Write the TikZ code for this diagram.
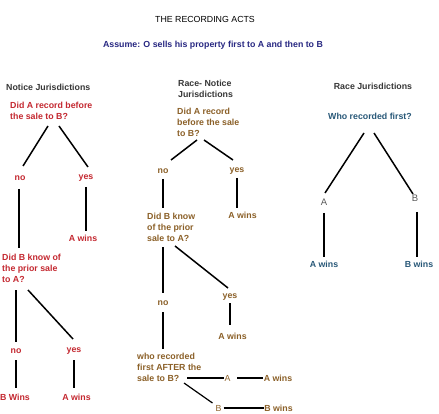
\documentclass[tikz,border=0pt]{standalone}
\usepackage{fontspec}
\setmainfont{Liberation Sans}
\definecolor{nred}{RGB}{196,40,48}
\definecolor{rbrown}{RGB}{139,96,40}
\definecolor{anavy}{RGB}{40,40,130}
\definecolor{rteal}{RGB}{40,88,120}
\definecolor{hgray}{RGB}{55,55,55}
\definecolor{lgray}{RGB}{90,90,90}
\begin{document}
\begin{tikzpicture}[x=1pt,y=-1pt]
\tikzset{
  base/.style={inner sep=0pt, font=\fontsize{8.8}{11}\selectfont\bfseries},
  plain/.style={inner sep=0pt, font=\fontsize{8.8}{11}\selectfont},
  multi/.style={base, align=left, anchor=west},
  red/.style={base, text=nred},
  brown/.style={base, text=rbrown},
  teal/.style={base, text=rteal},
  head/.style={base, text=hgray},
  conn/.style={draw=black, line width=1.5pt},
}
\useasboundingbox (0,0) rectangle (439,414);
\fill[white] (0,0) rectangle (439,414);

% titles
\node[plain, text=black] (title) at (205,19) {THE RECORDING ACTS};
\node[base, text=anavy] (assume) at (213,45) {Assume: O sells his property first to A and then to B};

% ---------- Notice ----------
\node[head, anchor=west] (hN) at (6,87) {Notice Jurisdictions};
\node[multi, text=nred] (qN1) at (10,110.5) {Did A record before\\the sale to B?};
\node[red] (noN1) at (20,178) {no};
\node[red] (yesN1) at (86,178) {yes};
\node[red] (winN1) at (83,238) {A wins};
\node[multi, text=nred] (qN2) at (2,268) {Did B know of\\the prior sale\\to A?};
\node[red] (noN2) at (16,351) {no};
\node[red] (yesN2) at (74,351) {yes};
\node[red] (winN2a) at (15,397) {B Wins};
\node[red] (winN2b) at (76.5,397) {A wins};

\draw[conn] ([shift={(38,15.5)}]qN1.west) -- ([shift={(3,-12)}]noN1.center);
\draw[conn] ([shift={(49,15.5)}]qN1.west) -- ([shift={(2,-11)}]yesN1.center);
\draw[conn] ([shift={(-1,11)}]noN1.center) -- ([shift={(17,-20)}]qN2.west);
\draw[conn] ([shift={(0,9)}]yesN1.center) -- ([shift={(3,-7)}]winN1.center);
\draw[conn] ([shift={(14,22)}]qN2.west) -- ([shift={(0,-9)}]noN2.center);
\draw[conn] ([shift={(26,22)}]qN2.west) -- ([shift={(-1,-12)}]yesN2.center);
\draw[conn] ([shift={(0,9)}]noN2.center) -- ([shift={(1,-9)}]winN2a.center);
\draw[conn] ([shift={(0,9)}]yesN2.center) -- ([shift={(-2.5,-9)}]winN2b.center);

% ---------- Race-Notice ----------
\node[multi, text=hgray] (hR) at (178,89) {Race- Notice\\Jurisdictions};
\node[multi, text=rbrown] (qR1) at (177,122) {Did A record\\before the sale\\to B?};
\node[brown] (noR1) at (163,171) {no};
\node[brown] (yesR1) at (237,171) {yes};
\node[brown] (winR1) at (242.5,215) {A wins};
\node[multi, text=rbrown] (qR2) at (147,227) {Did B know\\of the prior\\sale to A?};
\node[brown] (noR2) at (163,303) {no};
\node[brown] (yesR2) at (230,297) {yes};
\node[brown] (winR2) at (232.5,336) {A wins};
\node[multi, text=rbrown] (qR3) at (137,367) {who recorded\\first AFTER the\\sale to B?};
\node[plain, text=rbrown] (aR) at (227.5,378) {A};
\node[brown] (aWin) at (278,378) {A wins};
\node[plain, text=rbrown] (bR) at (218.5,408) {B};
\node[brown] (bWin) at (278.5,408) {B wins};
\coordinate (q3e) at (187,378);
\coordinate (q3s) at (184,383);

\draw[conn] ([shift={(20,18)}]qR1.west) -- ([shift={(8,-11)}]noR1.center);
\draw[conn] ([shift={(27,18)}]qR1.west) -- ([shift={(-4,-11)}]yesR1.center);
\draw[conn] ([shift={(0,8)}]noR1.center) -- ([shift={(16,-19)}]qR2.west);
\draw[conn] ([shift={(0,7)}]yesR1.center) -- ([shift={(-5.5,-7)}]winR1.center);
\draw[conn] ([shift={(16,20)}]qR2.west) -- ([shift={(0,-10)}]noR2.center);
\draw[conn] ([shift={(28,19)}]qR2.west) -- ([shift={(-2,-9)}]yesR2.center);
\draw[conn] ([shift={(0,9)}]noR2.center) -- ([shift={(26,-18)}]qR3.west);
\draw[conn] ([shift={(0,6)}]yesR2.center) -- ([shift={(-2.5,-11)}]winR2.center);
\draw[conn, line width=1.2pt] (q3e) -- ([shift={(-4,0)}]aR.center);
\draw[conn, line width=1.2pt] ([shift={(9.5,0)}]aR.center) -- ([shift={(-15,0)}]aWin.center);
\draw[conn, line width=1.2pt] (q3s) -- ([shift={(-6,-5)}]bR.center);
\draw[conn, line width=1.2pt] ([shift={(5,0)}]bR.center) -- ([shift={(-15,0)}]bWin.center);

% ---------- Race ----------
\node[head] (hRace) at (373,86) {Race Jurisdictions};
\node[teal] (qRace) at (370,116) {Who recorded first?};
\node[plain, text=lgray, font=\fontsize{9.5}{11}\selectfont] (aRace) at (324,202) {A};
\node[plain, text=lgray, font=\fontsize{9.5}{11}\selectfont] (bRace) at (415,198) {B};
\node[teal] (winRA) at (324,264) {A wins};
\node[teal] (winRB) at (419,264) {B wins};

\draw[conn] ([shift={(-6,17)}]qRace.center) -- ([shift={(1,-9)}]aRace.center);
\draw[conn] ([shift={(4,17)}]qRace.center) -- ([shift={(-2,-4)}]bRace.center);
\draw[conn] ([shift={(0,11)}]aRace.center) -- ([shift={(0,-7)}]winRA.center);
\draw[conn] ([shift={(2,14)}]bRace.center) -- ([shift={(-2,-7)}]winRB.center);
\end{tikzpicture}
\end{document}
